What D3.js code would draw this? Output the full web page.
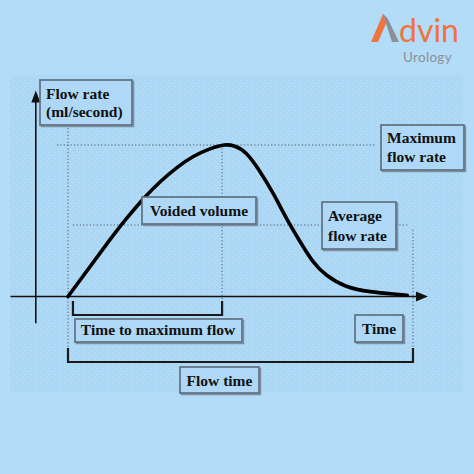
<!DOCTYPE html>
<html>
<head>
<meta charset="utf-8">
<script src="https://cdn.jsdelivr.net/npm/d3@7/dist/d3.min.js"></script>
<style>
  html, body { margin: 0; padding: 0; background: #b3dcf9; }
  svg { display: block; }
</style>
</head>
<body>
<svg id="chart" width="474" height="474"></svg>
<script>
// ---- data (time in s, flow in ml/s) ----
const curveTime = [0, 3.7, 5.1, 6.6, 8.0, 9.5, 10.9, 12.4, 13.6, 14.5, 15.5, 16.7, 17.9, 19.0, 20.2, 21.3, 22.5, 24.2, 26.3, 28.3, 29.5];
const curveFlow = [0, 9.5, 12.9, 16.2, 18.9, 21.3, 23.1, 24.4, 25.0, 24.8, 23.6, 20.6, 16.8, 12.9, 9.0, 5.8, 3.5, 1.7, 0.8, 0.4, 0.2];
const peakTime = 13.4;
const peakFlow = 25.0;
const avgFlow = 11.8;
const flowEnd = 30.0;

const labelNames = ["Flow rate|(ml/second)", "Voided volume", "Maximum|flow rate", "Average|flow rate", "Time to maximum flow", "Time", "Flow time"];

const svg = d3.select("#chart");
const x = d3.scaleLinear().domain([0, 30]).range([68, 413]);
const y = d3.scaleLinear().domain([0, 25]).range([296.5, 145]);

// background panel
svg.append("rect").attr("width", 474).attr("height", 474).attr("fill", "#b3dcf9");
const defs = svg.append("defs");
const pat = defs.append("pattern").attr("id", "tex").attr("width", 6).attr("height", 6).attr("patternUnits", "userSpaceOnUse");
pat.append("rect").attr("width", 6).attr("height", 6).attr("fill", "#add8f5");
pat.append("rect").attr("x", 1).attr("y", 2).attr("width", 1).attr("height", 1).attr("fill", "#c0e2fa");
pat.append("rect").attr("x", 4).attr("y", 5).attr("width", 1).attr("height", 1).attr("fill", "#c0e2fa");
pat.append("rect").attr("x", 3).attr("y", 0).attr("width", 1).attr("height", 1).attr("fill", "#a4d1f1");
svg.append("rect").attr("x", 10).attr("y", 75).attr("width", 453).attr("height", 318).attr("fill", "url(#tex)");

// logo
const logo = svg.append("g");
logo.append("polygon").attr("points", "371,42 378,42 388,19 383,14").attr("fill", "#ee7440");
logo.append("polygon").attr("points", "383,14 388,19 399,42 392,42").attr("fill", "#8d8f96");
logo.append("text").attr("x", 399).attr("y", 42).attr("font-family", "Lato, 'Noto Sans', sans-serif")
  .attr("font-size", 32).attr("fill", "#ee7440").text("dvin");
logo.append("text").attr("x", 403).attr("y", 62).attr("font-family", "Lato, 'Noto Sans', sans-serif")
  .attr("font-size", 13.5).attr("fill", "#8d8f96").attr("letter-spacing", 0.3).text("Urology");

// dotted guide lines
const dotted = svg.append("g").attr("stroke", "#4a5a6a").attr("stroke-width", 1).attr("stroke-dasharray", "1.2,2.2").attr("fill", "none");
const guides = [
  [0, 27.8, 0, -8.6],
  [peakTime, peakFlow, peakTime, -0.8],
  [flowEnd, 11.0, flowEnd, -8.6],
  [-0.96, peakFlow, 26.8, peakFlow],
  [0.43, avgFlow, 29.5, avgFlow]
];
guides.forEach(g => dotted.append("line").attr("x1", x(g[0])).attr("y1", y(g[1])).attr("x2", x(g[2])).attr("y2", y(g[3])));

// axes
const ax = svg.append("g").attr("stroke", "#111").attr("stroke-width", 1.6);
ax.append("line").attr("x1", x(-5.0)).attr("x2", x(30.6)).attr("y1", y(0)).attr("y2", y(0));
ax.append("line").attr("x1", x(-2.8)).attr("x2", x(-2.8)).attr("y1", y(-4.4)).attr("y2", y(32.5));
svg.append("polygon").attr("fill", "#111")
  .attr("points", [[x(-2.8), y(34.0)], [x(-2.8) - 4.5, y(34.0) + 12], [x(-2.8) + 4.5, y(34.0) + 12]].join(" "));
svg.append("polygon").attr("fill", "#111")
  .attr("points", [[x(31.3), y(0)], [x(31.3) - 12, y(0) - 5], [x(31.3) - 12, y(0) + 5]].join(" "));

// flow curve
const pts = curveTime.map((t, i) => [t, curveFlow[i]]);
svg.append("path").datum(pts)
  .attr("fill", "none").attr("stroke", "#000").attr("stroke-width", 3.6).attr("stroke-linecap", "round")
  .attr("d", d3.line().x(d => x(d[0])).y(d => y(d[1])).curve(d3.curveNatural));

// brackets
const br = svg.append("g").attr("stroke", "#1a1a1a").attr("stroke-width", 2.2).attr("fill", "none");
function bracket(t0, t1, top, bot) {
  br.append("path").attr("d", `M${x(t0)},${top}V${bot}H${x(t1)}V${top}`);
}
bracket(0.43, peakTime, 301, 315);
bracket(0, flowEnd, 348, 362);

// label boxes
const boxes = [
  {i: 0, x0: 40, y0: 80, x1: 132, y1: 125, tx: 46, base: [99, 117], anchor: "start"},
  {i: 1, x0: 142, y0: 197, x1: 256, y1: 224, tx: 199, base: [216], anchor: "middle"},
  {i: 2, x0: 381, y0: 125, x1: 464, y1: 170, tx: 387, base: [143, 162], anchor: "start"},
  {i: 3, x0: 322, y0: 202, x1: 396, y1: 249, tx: 328, base: [221, 241], anchor: "start"},
  {i: 4, x0: 75, y0: 319, x1: 242, y1: 342, tx: 158, base: [334.5], anchor: "middle"},
  {i: 5, x0: 355, y0: 315, x1: 403, y1: 342, tx: 379, base: [333.5], anchor: "middle"},
  {i: 6, x0: 180, y0: 367, x1: 259, y1: 393, tx: 219.5, base: [385.5], anchor: "middle"}
];
boxes.forEach(b => {
  const g = svg.append("g");
  g.append("rect").attr("x", b.x0 + 1.5).attr("y", b.y0 + 1.5).attr("width", b.x1 - b.x0).attr("height", b.y1 - b.y0)
    .attr("fill", "none").attr("stroke", "#7d8e9e").attr("stroke-width", 1.5);
  g.append("rect").attr("x", b.x0).attr("y", b.y0).attr("width", b.x1 - b.x0).attr("height", b.y1 - b.y0)
    .attr("fill", "#aed8f5").attr("stroke", "#5a6a7a").attr("stroke-width", 1.6);
  labelNames[b.i].split("|").forEach((line, k) => {
    g.append("text").attr("x", b.tx).attr("y", b.base[k]).attr("text-anchor", b.anchor)
      .attr("font-family", "'Liberation Serif', 'Times New Roman', serif").attr("font-weight", "bold")
      .attr("font-size", 15.5).attr("fill", "#111").text(line);
  });
});
</script>
</body>
</html>
